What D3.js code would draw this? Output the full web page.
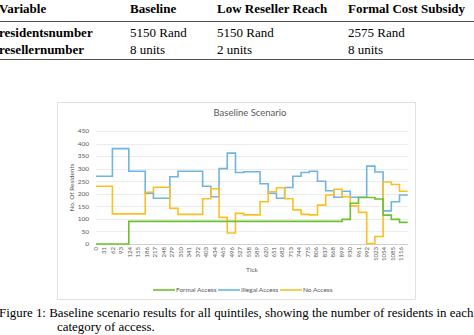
<!DOCTYPE html>
<html>
<head>
<meta charset="utf-8">
<script src="https://cdn.jsdelivr.net/npm/d3@7"></script>
<style>
  body { margin: 0; background: white; }
  svg { display: block; }
</style>
</head>
<body>
<div id="chart"></div>
<script>
// table rows above the chart
const tableHead = ["Variable", "Baseline", "Low Reseller Reach", "Formal Cost Subsidy"]
const tableRows = [
    ["residentsnumber", "5150 Rand", "5150 Rand", "2575 Rand"],
    ["resellernumber", "8 units", "2 units", "8 units"]
]

// step points (tick where each level starts), last one closes the line
const tickPoints = [0, 30, 60, 90, 120, 150, 180, 210, 240, 270, 300, 330, 360, 390, 420, 450, 480, 510, 540,
    570, 600, 630, 660, 690, 720, 750, 780, 810, 840, 870, 900, 930, 960, 990, 1020, 1050, 1080, 1110, 1140]

const formalAccess = [0, 0, 0, 0, 90, 90, 90, 90, 90, 90, 90, 90, 90, 90, 90, 90, 90, 90, 90,
    90, 90, 90, 90, 90, 90, 90, 90, 90, 90, 90, 98, 162, 185, 185, 179, 115, 98, 86, 86]
const illegalAccess = [270, 270, 380, 380, 290, 290, 202, 182, 182, 268, 290, 290, 290, 230, 188, 300, 362, 285, 288,
    288, 240, 202, 182, 225, 270, 285, 290, 250, 212, 186, 210, 186, 186, 310, 287, 132, 168, 195, 195]
const noAccess = [230, 230, 120, 120, 120, 120, 206, 226, 226, 142, 118, 118, 118, 180, 220, 106, 44, 122, 116,
    116, 168, 208, 224, 180, 136, 118, 116, 155, 195, 218, 188, 152, 126, 2, 30, 247, 237, 210, 210]

const tickLabels = ["0", "31", "62", "93", "124", "155", "186", "217", "248", "279", "310", "341", "372", "403",
    "434", "465", "496", "527", "558", "589", "620", "651", "682", "713", "744", "775", "806", "837", "868",
    "899", "930", "961", "992", "1023", "1054", "1085", "1116"]
const yTicks = [0, 50, 100, 150, 200, 250, 300, 350, 400, 450]

const seriesNames = ["Formal Access", "Illegal Access", "No Access"]
const seriesColors = ["#6cc12e", "#6fb4e2", "#fbbf26"]

const svg = d3.select("#chart").append("svg")
    .attr("width", 474)
    .attr("height", 335)

const serif = "'Liberation Serif', 'Times New Roman', serif"
const sans = "Lato, 'Open Sans', sans-serif"

// ---- table ----
const colX = [-1, 130, 217, 348]
svg.selectAll(".head")
    .data(tableHead)
    .join("text")
    .attr("class", "head")
    .attr("x", (d, i) => colX[i])
    .attr("y", 13)
    .style("font-family", serif)
    .style("font-size", "13px")
    .style("font-weight", "bold")
    .text(d => d)

svg.append("line").attr("x1", 0).attr("x2", 474).attr("y1", 21.5).attr("y2", 21.5)
    .attr("stroke", "#222").attr("stroke-width", 0.8)

tableRows.forEach((row, r) => {
    svg.selectAll(".row" + r)
        .data(row)
        .join("text")
        .attr("x", (d, i) => colX[i])
        .attr("y", 37 + r * 17)
        .style("font-family", serif)
        .style("font-size", "13px")
        .style("font-weight", (d, i) => i == 0 ? "bold" : "normal")
        .text(d => d)
})

svg.append("line").attr("x1", 0).attr("x2", 474).attr("y1", 59.5).attr("y2", 59.5)
    .attr("stroke", "#222").attr("stroke-width", 0.8)

// ---- chart box ----
svg.append("rect")
    .attr("x", 57.5).attr("y", 102.5)
    .attr("width", 358).attr("height", 197)
    .attr("fill", "white")
    .attr("stroke", "#e2e2e2")

svg.append("text")
    .attr("x", 250).attr("y", 116)
    .attr("text-anchor", "middle")
    .style("font-family", sans)
    .style("font-size", "9.5px")
    .style("fill", "#595959")
    .text("Baseline Scenario")

const x = d3.scaleLinear().domain([0, 1141]).range([96, 408])
const y = d3.scaleLinear().domain([0, 450]).range([244, 131])

// gridlines
svg.selectAll(".grid")
    .data(yTicks)
    .join("line")
    .attr("class", "grid")
    .attr("x1", 96).attr("x2", 408)
    .attr("y1", d => Math.round(y(d)) + 0.5)
    .attr("y2", d => Math.round(y(d)) + 0.5)
    .attr("stroke", d => d == 0 ? "#d0d0d0" : "#ececec")
    .attr("stroke-width", 1)

svg.selectAll(".ylab")
    .data(yTicks)
    .join("text")
    .attr("class", "ylab")
    .attr("x", 89)
    .attr("y", d => y(d) + 2.3)
    .attr("text-anchor", "end")
    .style("font-family", sans)
    .style("font-size", "6.5px")
    .style("fill", "#595959")
    .text(d => d)

svg.append("text")
    .attr("transform", "translate(74," + y(225) + ") rotate(-90)")
    .attr("text-anchor", "middle")
    .style("font-family", sans)
    .style("font-size", "6.5px")
    .style("fill", "#595959")
    .text("No. Of Residents")

// x labels, every 31 ticks
svg.selectAll(".xlab")
    .data(tickLabels)
    .join("text")
    .attr("class", "xlab")
    .attr("transform", d => "translate(" + (x(+d) + 2) + ",247) rotate(-90)")
    .attr("text-anchor", "end")
    .style("font-family", sans)
    .style("font-size", "6px")
    .style("fill", "#595959")
    .text(d => d)

svg.append("text")
    .attr("x", 252).attr("y", 272)
    .attr("text-anchor", "middle")
    .style("font-family", sans)
    .style("font-size", "6.5px")
    .style("fill", "#595959")
    .text("Tick")

// ---- lines ----
const allSeries = [formalAccess, illegalAccess, noAccess]
const line = d3.line()
    .x((d, i) => x(tickPoints[i]))
    .y(d => y(d))
    .curve(d3.curveStepAfter)

// draw in order illegal, no access, formal so green sits on top like in excel
svg.selectAll(".series")
    .data([1, 2, 0])
    .join("path")
    .attr("class", "series")
    .attr("d", k => line(allSeries[k]))
    .attr("fill", "none")
    .attr("stroke", k => seriesColors[k])
    .attr("stroke-width", 1.6)

// ---- legend ----
const legendX = [153, 218, 280]
const legend = svg.selectAll(".legend")
    .data(seriesNames)
    .join("g")
    .attr("class", "legend")
    .attr("transform", (d, i) => "translate(" + legendX[i] + ",290)")

legend.append("line")
    .attr("x1", 0).attr("x2", 22)
    .attr("stroke", (d, i) => seriesColors[i])
    .attr("stroke-width", 1.6)

legend.append("text")
    .attr("x", 23).attr("y", 2.2)
    .style("font-family", sans)
    .style("font-size", "6.5px")
    .style("fill", "#595959")
    .text(d => d)

// ---- caption ----
svg.append("text")
    .attr("x", -1).attr("y", 317)
    .style("font-family", serif)
    .style("font-size", "12.9px")
    .text("Figure 1: Baseline scenario results for all quintiles, showing the number of residents in each")

svg.append("text")
    .attr("x", 57).attr("y", 331)
    .style("font-family", serif)
    .style("font-size", "12.9px")
    .text("category of access.")
</script>
</body>
</html>
